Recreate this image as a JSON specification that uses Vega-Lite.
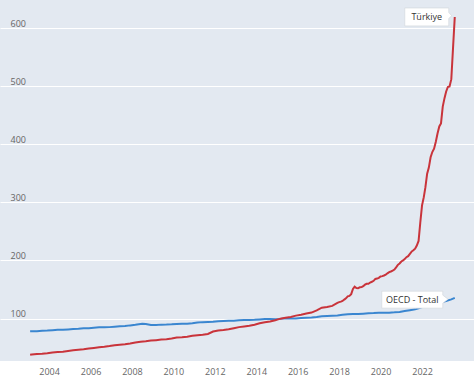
{
  "$schema": "https://vega.github.io/schema/vega-lite/v6.json",
  "width": 474,
  "height": 361,
  "padding": {"left": 0, "top": 0, "right": 0, "bottom": 16},
  "autosize": {"type": "none"},
  "background": "#ffffff",
  "config": {
    "view": {"fill": "#e3e9f1", "stroke": null},
    "font": "Open Sans"
  },
  "datasets": {
    "cpi": [
      {"d":"2003-02-01","s":"OECD - Total","v":78.0},
      {"d":"2003-06-01","s":"OECD - Total","v":78.3},
      {"d":"2003-09-01","s":"OECD - Total","v":78.8},
      {"d":"2003-12-01","s":"OECD - Total","v":79.2},
      {"d":"2004-03-01","s":"OECD - Total","v":79.8},
      {"d":"2004-06-01","s":"OECD - Total","v":80.5},
      {"d":"2004-09-01","s":"OECD - Total","v":80.8},
      {"d":"2004-12-01","s":"OECD - Total","v":81.3},
      {"d":"2005-03-01","s":"OECD - Total","v":81.9},
      {"d":"2005-06-01","s":"OECD - Total","v":82.4},
      {"d":"2005-09-01","s":"OECD - Total","v":83.2},
      {"d":"2005-12-01","s":"OECD - Total","v":83.4},
      {"d":"2006-03-01","s":"OECD - Total","v":84.0},
      {"d":"2006-06-01","s":"OECD - Total","v":84.8},
      {"d":"2006-09-01","s":"OECD - Total","v":85.0},
      {"d":"2006-12-01","s":"OECD - Total","v":85.2},
      {"d":"2007-03-01","s":"OECD - Total","v":86.0},
      {"d":"2007-06-01","s":"OECD - Total","v":86.8},
      {"d":"2007-09-01","s":"OECD - Total","v":87.0},
      {"d":"2007-12-01","s":"OECD - Total","v":88.2},
      {"d":"2008-03-01","s":"OECD - Total","v":89.2},
      {"d":"2008-06-01","s":"OECD - Total","v":90.6},
      {"d":"2008-07-01","s":"OECD - Total","v":91.0},
      {"d":"2008-09-01","s":"OECD - Total","v":90.6},
      {"d":"2008-12-01","s":"OECD - Total","v":88.8},
      {"d":"2009-03-01","s":"OECD - Total","v":88.8},
      {"d":"2009-06-01","s":"OECD - Total","v":89.5},
      {"d":"2009-09-01","s":"OECD - Total","v":89.6},
      {"d":"2009-12-01","s":"OECD - Total","v":90.0},
      {"d":"2010-03-01","s":"OECD - Total","v":90.7},
      {"d":"2010-06-01","s":"OECD - Total","v":91.0},
      {"d":"2010-09-01","s":"OECD - Total","v":91.2},
      {"d":"2010-12-01","s":"OECD - Total","v":91.8},
      {"d":"2011-03-01","s":"OECD - Total","v":93.0},
      {"d":"2011-06-01","s":"OECD - Total","v":93.8},
      {"d":"2011-09-01","s":"OECD - Total","v":94.0},
      {"d":"2011-12-01","s":"OECD - Total","v":94.3},
      {"d":"2012-03-01","s":"OECD - Total","v":95.3},
      {"d":"2012-06-01","s":"OECD - Total","v":95.6},
      {"d":"2012-09-01","s":"OECD - Total","v":96.0},
      {"d":"2012-12-01","s":"OECD - Total","v":96.2},
      {"d":"2013-03-01","s":"OECD - Total","v":97.0},
      {"d":"2013-06-01","s":"OECD - Total","v":97.4},
      {"d":"2013-09-01","s":"OECD - Total","v":97.6},
      {"d":"2013-12-01","s":"OECD - Total","v":97.7},
      {"d":"2014-03-01","s":"OECD - Total","v":98.5},
      {"d":"2014-06-01","s":"OECD - Total","v":99.2},
      {"d":"2014-09-01","s":"OECD - Total","v":99.2},
      {"d":"2014-12-01","s":"OECD - Total","v":98.8},
      {"d":"2015-03-01","s":"OECD - Total","v":99.4},
      {"d":"2015-06-01","s":"OECD - Total","v":100.3},
      {"d":"2015-09-01","s":"OECD - Total","v":100.2},
      {"d":"2015-12-01","s":"OECD - Total","v":100.0},
      {"d":"2016-03-01","s":"OECD - Total","v":100.8},
      {"d":"2016-06-01","s":"OECD - Total","v":101.5},
      {"d":"2016-09-01","s":"OECD - Total","v":101.8},
      {"d":"2016-12-01","s":"OECD - Total","v":102.6},
      {"d":"2017-03-01","s":"OECD - Total","v":103.8},
      {"d":"2017-06-01","s":"OECD - Total","v":104.4},
      {"d":"2017-09-01","s":"OECD - Total","v":104.9},
      {"d":"2017-12-01","s":"OECD - Total","v":105.4},
      {"d":"2018-03-01","s":"OECD - Total","v":106.4},
      {"d":"2018-06-01","s":"OECD - Total","v":107.2},
      {"d":"2018-09-01","s":"OECD - Total","v":107.6},
      {"d":"2018-12-01","s":"OECD - Total","v":107.6},
      {"d":"2019-03-01","s":"OECD - Total","v":108.4},
      {"d":"2019-06-01","s":"OECD - Total","v":109.1},
      {"d":"2019-09-01","s":"OECD - Total","v":109.3},
      {"d":"2019-12-01","s":"OECD - Total","v":109.8},
      {"d":"2020-03-01","s":"OECD - Total","v":110.0},
      {"d":"2020-06-01","s":"OECD - Total","v":110.0},
      {"d":"2020-09-01","s":"OECD - Total","v":110.6},
      {"d":"2020-12-01","s":"OECD - Total","v":111.4},
      {"d":"2021-03-01","s":"OECD - Total","v":112.8},
      {"d":"2021-06-01","s":"OECD - Total","v":114.3},
      {"d":"2021-09-01","s":"OECD - Total","v":115.8},
      {"d":"2021-12-01","s":"OECD - Total","v":118.4},
      {"d":"2022-03-01","s":"OECD - Total","v":121.8},
      {"d":"2022-06-01","s":"OECD - Total","v":125.0},
      {"d":"2022-09-01","s":"OECD - Total","v":126.8},
      {"d":"2022-12-01","s":"OECD - Total","v":128.0},
      {"d":"2023-03-01","s":"OECD - Total","v":130.3},
      {"d":"2023-06-01","s":"OECD - Total","v":133.0},
      {"d":"2023-08-01","s":"OECD - Total","v":135.6},
      {"d":"2003-02-01","s":"Türkiye","v":37.5},
      {"d":"2003-03-01","s":"Türkiye","v":38.0},
      {"d":"2003-06-01","s":"Türkiye","v":38.8},
      {"d":"2003-09-01","s":"Türkiye","v":39.3},
      {"d":"2003-12-01","s":"Türkiye","v":40.2},
      {"d":"2004-03-01","s":"Türkiye","v":41.5},
      {"d":"2004-06-01","s":"Türkiye","v":42.3},
      {"d":"2004-09-01","s":"Türkiye","v":43.0},
      {"d":"2004-12-01","s":"Türkiye","v":44.2},
      {"d":"2005-03-01","s":"Türkiye","v":45.5},
      {"d":"2005-06-01","s":"Türkiye","v":46.3},
      {"d":"2005-09-01","s":"Türkiye","v":47.2},
      {"d":"2005-12-01","s":"Türkiye","v":48.3},
      {"d":"2006-03-01","s":"Türkiye","v":49.4},
      {"d":"2006-06-01","s":"Türkiye","v":50.6},
      {"d":"2006-09-01","s":"Türkiye","v":51.4},
      {"d":"2006-12-01","s":"Türkiye","v":52.6},
      {"d":"2007-03-01","s":"Türkiye","v":54.0},
      {"d":"2007-06-01","s":"Türkiye","v":54.8},
      {"d":"2007-09-01","s":"Türkiye","v":55.6},
      {"d":"2007-12-01","s":"Türkiye","v":57.0},
      {"d":"2008-03-01","s":"Türkiye","v":58.8},
      {"d":"2008-06-01","s":"Türkiye","v":60.2},
      {"d":"2008-09-01","s":"Türkiye","v":61.0},
      {"d":"2008-12-01","s":"Türkiye","v":62.0},
      {"d":"2009-03-01","s":"Türkiye","v":62.8},
      {"d":"2009-06-01","s":"Türkiye","v":63.8},
      {"d":"2009-09-01","s":"Türkiye","v":64.4},
      {"d":"2009-12-01","s":"Türkiye","v":65.8},
      {"d":"2010-03-01","s":"Türkiye","v":67.5},
      {"d":"2010-06-01","s":"Türkiye","v":67.8},
      {"d":"2010-09-01","s":"Türkiye","v":68.8},
      {"d":"2010-12-01","s":"Türkiye","v":70.2},
      {"d":"2011-03-01","s":"Türkiye","v":71.4},
      {"d":"2011-06-01","s":"Türkiye","v":72.0},
      {"d":"2011-09-01","s":"Türkiye","v":73.5},
      {"d":"2011-12-01","s":"Türkiye","v":77.6},
      {"d":"2012-03-01","s":"Türkiye","v":79.5},
      {"d":"2012-06-01","s":"Türkiye","v":80.2},
      {"d":"2012-09-01","s":"Türkiye","v":81.5},
      {"d":"2012-12-01","s":"Türkiye","v":83.4},
      {"d":"2013-03-01","s":"Türkiye","v":85.2},
      {"d":"2013-06-01","s":"Türkiye","v":86.4},
      {"d":"2013-09-01","s":"Türkiye","v":87.4},
      {"d":"2013-12-01","s":"Türkiye","v":89.4},
      {"d":"2014-03-01","s":"Türkiye","v":91.8},
      {"d":"2014-06-01","s":"Türkiye","v":93.6},
      {"d":"2014-09-01","s":"Türkiye","v":94.8},
      {"d":"2014-12-01","s":"Türkiye","v":97.0},
      {"d":"2015-03-01","s":"Türkiye","v":99.8},
      {"d":"2015-06-01","s":"Türkiye","v":101.4},
      {"d":"2015-09-01","s":"Türkiye","v":102.8},
      {"d":"2015-12-01","s":"Türkiye","v":105.0},
      {"d":"2016-03-01","s":"Türkiye","v":106.6},
      {"d":"2016-06-01","s":"Türkiye","v":108.6},
      {"d":"2016-09-01","s":"Türkiye","v":110.2},
      {"d":"2016-12-01","s":"Türkiye","v":114.0},
      {"d":"2017-03-01","s":"Türkiye","v":118.6},
      {"d":"2017-06-01","s":"Türkiye","v":120.0},
      {"d":"2017-09-01","s":"Türkiye","v":121.8},
      {"d":"2017-12-01","s":"Türkiye","v":127.0},
      {"d":"2018-01-01","s":"Türkiye","v":128.2},
      {"d":"2018-02-01","s":"Türkiye","v":129.0},
      {"d":"2018-03-01","s":"Türkiye","v":130.2},
      {"d":"2018-04-01","s":"Türkiye","v":132.6},
      {"d":"2018-05-01","s":"Türkiye","v":134.8},
      {"d":"2018-06-01","s":"Türkiye","v":138.2},
      {"d":"2018-07-01","s":"Türkiye","v":139.0},
      {"d":"2018-08-01","s":"Türkiye","v":142.0},
      {"d":"2018-09-01","s":"Türkiye","v":151.0},
      {"d":"2018-10-01","s":"Türkiye","v":154.8},
      {"d":"2018-11-01","s":"Türkiye","v":152.6},
      {"d":"2018-12-01","s":"Türkiye","v":152.2},
      {"d":"2019-01-01","s":"Türkiye","v":153.7},
      {"d":"2019-02-01","s":"Türkiye","v":154.0},
      {"d":"2019-03-01","s":"Türkiye","v":155.6},
      {"d":"2019-04-01","s":"Türkiye","v":158.2},
      {"d":"2019-05-01","s":"Türkiye","v":159.7},
      {"d":"2019-06-01","s":"Türkiye","v":159.8},
      {"d":"2019-07-01","s":"Türkiye","v":161.9},
      {"d":"2019-08-01","s":"Türkiye","v":163.3},
      {"d":"2019-09-01","s":"Türkiye","v":164.9},
      {"d":"2019-10-01","s":"Türkiye","v":168.2},
      {"d":"2019-11-01","s":"Türkiye","v":168.8},
      {"d":"2019-12-01","s":"Türkiye","v":170.1},
      {"d":"2020-01-01","s":"Türkiye","v":172.4},
      {"d":"2020-02-01","s":"Türkiye","v":173.0},
      {"d":"2020-03-01","s":"Türkiye","v":174.0},
      {"d":"2020-04-01","s":"Türkiye","v":175.4},
      {"d":"2020-05-01","s":"Türkiye","v":177.8},
      {"d":"2020-06-01","s":"Türkiye","v":179.8},
      {"d":"2020-07-01","s":"Türkiye","v":180.9},
      {"d":"2020-08-01","s":"Türkiye","v":182.4},
      {"d":"2020-09-01","s":"Türkiye","v":184.2},
      {"d":"2020-10-01","s":"Türkiye","v":188.1},
      {"d":"2020-11-01","s":"Türkiye","v":192.4},
      {"d":"2020-12-01","s":"Türkiye","v":194.8},
      {"d":"2021-01-01","s":"Türkiye","v":198.2},
      {"d":"2021-02-01","s":"Türkiye","v":200.0},
      {"d":"2021-03-01","s":"Türkiye","v":202.2},
      {"d":"2021-04-01","s":"Türkiye","v":205.6},
      {"d":"2021-05-01","s":"Türkiye","v":207.4},
      {"d":"2021-06-01","s":"Türkiye","v":211.4},
      {"d":"2021-07-01","s":"Türkiye","v":215.2},
      {"d":"2021-08-01","s":"Türkiye","v":217.6},
      {"d":"2021-09-01","s":"Türkiye","v":220.3},
      {"d":"2021-10-01","s":"Türkiye","v":225.6},
      {"d":"2021-11-01","s":"Türkiye","v":233.5},
      {"d":"2021-12-01","s":"Türkiye","v":265.2},
      {"d":"2022-01-01","s":"Türkiye","v":294.7},
      {"d":"2022-02-01","s":"Türkiye","v":308.9},
      {"d":"2022-03-01","s":"Türkiye","v":325.7},
      {"d":"2022-04-01","s":"Türkiye","v":349.3},
      {"d":"2022-05-01","s":"Türkiye","v":359.8},
      {"d":"2022-06-01","s":"Türkiye","v":377.6},
      {"d":"2022-07-01","s":"Türkiye","v":386.5},
      {"d":"2022-08-01","s":"Türkiye","v":392.2},
      {"d":"2022-09-01","s":"Türkiye","v":404.2},
      {"d":"2022-10-01","s":"Türkiye","v":418.5},
      {"d":"2022-11-01","s":"Türkiye","v":430.6},
      {"d":"2022-12-01","s":"Türkiye","v":435.7},
      {"d":"2023-01-01","s":"Türkiye","v":464.7},
      {"d":"2023-02-01","s":"Türkiye","v":479.3},
      {"d":"2023-03-01","s":"Türkiye","v":490.3},
      {"d":"2023-04-01","s":"Türkiye","v":498.5},
      {"d":"2023-05-01","s":"Türkiye","v":499.5},
      {"d":"2023-06-01","s":"Türkiye","v":512.0},
      {"d":"2023-07-01","s":"Türkiye","v":565.0},
      {"d":"2023-08-01","s":"Türkiye","v":619.0}
    ]
  },
  "data": {"name": "cpi"},
  "encoding": {
    "x": {
      "field": "d",
      "type": "temporal",
      "scale": {
        "type": "utc",
        "domain": [
          {"year": 2001, "month": 8, "date": 19, "utc": true},
          {"year": 2024, "month": 7, "date": 5, "utc": true}
        ]
      },
      "axis": {
        "title": null,
        "format": "%Y",
        "values": [
          {"year": 2004, "utc": true}, {"year": 2006, "utc": true}, {"year": 2008, "utc": true},
          {"year": 2010, "utc": true}, {"year": 2012, "utc": true}, {"year": 2014, "utc": true},
          {"year": 2016, "utc": true}, {"year": 2018, "utc": true}, {"year": 2020, "utc": true},
          {"year": 2022, "utc": true}
        ],
        "grid": false,
        "domain": false,
        "ticks": false,
        "labelPadding": 6,
        "labelBaseline": "top",
        "labelFontSize": 9,
        "labelColor": "#666666",
        "labelFlush": false,
        "labelOverlap": false
      }
    },
    "y": {
      "field": "v",
      "type": "quantitative",
      "scale": {"domain": [26.9, 648.2], "nice": false, "zero": false},
      "axis": {
        "title": null,
        "values": [100, 200, 300, 400, 500, 600],
        "grid": true,
        "gridColor": "#ffffff",
        "gridWidth": 1,
        "gridOpacity": 1,
        "domain": false,
        "ticks": false,
        "labelAlign": "left",
        "labelPadding": -10,
        "labelBaseline": "alphabetic",
        "labelOffset": -2,
        "labelFontSize": 9,
        "labelColor": "#666666"
      }
    }
  },
  "layer": [
    {
      "mark": {"type": "line", "strokeWidth": 2},
      "encoding": {
        "color": {
          "field": "s",
          "type": "nominal",
          "scale": {"domain": ["OECD - Total", "Türkiye"], "range": ["#3a86d0", "#c9343b"]},
          "legend": null
        }
      }
    },
    {
      "transform": [{"filter": "datum.s == 'Türkiye' && time(datum.d) == utc(2023, 7, 1)"}],
      "mark": {
        "type": "point",
        "shape": "M-5.0,-0.9 L-0.6,-0.9 L-0.6,-0.45 L-0.3,-0.12 L-0.6,0.15 L-0.6,0.9 L-5.0,0.9 Z",
        "size": 400,
        "filled": true,
        "fill": "#ffffff",
        "stroke": "#d4d8dd",
        "strokeWidth": 0.7,
        "opacity": 1
      }
    },
    {
      "transform": [{"filter": "datum.s == 'OECD - Total' && time(datum.d) == utc(2023, 7, 1)"}],
      "mark": {
        "type": "point",
        "shape": "M-7.3,-0.67 L-1.2,-0.67 L-1.2,-0.27 L-0.67,0.13 L-1.2,0.53 L-1.2,1.03 L-7.3,1.03 Z",
        "size": 400,
        "filled": true,
        "fill": "#ffffff",
        "stroke": "#d4d8dd",
        "strokeWidth": 0.7,
        "opacity": 1
      }
    },
    {
      "transform": [{"filter": "datum.s == 'Türkiye' && time(datum.d) == utc(2023, 7, 1)"}],
      "mark": {"type": "text", "dx": -28, "dy": 0.3, "align": "center", "baseline": "middle", "fontSize": 9, "color": "#333333"},
      "encoding": {"text": {"field": "s"}}
    },
    {
      "transform": [{"filter": "datum.s == 'OECD - Total' && time(datum.d) == utc(2023, 7, 1)"}],
      "mark": {"type": "text", "dx": -42.5, "dy": 1.8, "align": "center", "baseline": "middle", "fontSize": 9, "color": "#333333"},
      "encoding": {"text": {"field": "s"}}
    }
  ]
}
